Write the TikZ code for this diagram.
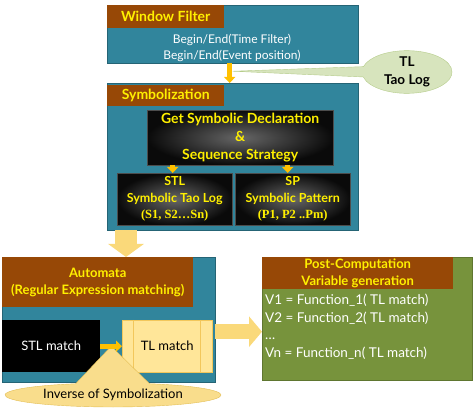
\documentclass[tikz,border=0pt]{standalone}
\usepackage{fontspec}
\setmainfont{Lato}
\newfontfamily\timesbold{Liberation Serif}[BoldFont={Liberation Serif Bold}]
\usetikzlibrary{arrows.meta,positioning,shapes.geometric,shapes.callouts,calc}
\definecolor{panelteal}{HTML}{31859C}
\definecolor{headbrown}{HTML}{974806}
\definecolor{titleyellow}{HTML}{FFF000}
\definecolor{postgreen}{HTML}{77933C}
\definecolor{matchyellow}{HTML}{FFE699}
\definecolor{matchedge}{HTML}{F2C75C}
\definecolor{arroworange}{HTML}{FFC000}
\definecolor{blockgold}{HTML}{FAD97A}
\definecolor{tlgreen}{HTML}{D7E4BD}
\definecolor{tledge}{HTML}{B5CC8A}
\definecolor{inversefill}{HTML}{F9DD8C}
\definecolor{inverseedge}{HTML}{E3BE55}
\tikzset{
  panel/.style={rectangle,draw=panelteal!75!black,fill=panelteal,anchor=north west,inner sep=0pt},
  header/.style={rectangle,fill=headbrown,anchor=north west,inner sep=0pt,text=titleyellow,
    font=\bfseries\fontsize{13}{17}\selectfont,align=center},
  darkbox/.style={rectangle,draw=black!70,inner color=black!60,outer color=black!96,anchor=north west,
    inner sep=0pt,text=titleyellow,align=center},
  bodytext/.style={text=white,align=center,inner sep=0pt,font=\fontsize{12}{16}\selectfont},
  smallarrow/.style={draw=arroworange,line width=5pt,-{Triangle[width=11pt,length=6pt]}},
  blockarrow/.style={draw=blockgold,-{Triangle[width=#1,length=13pt]}},
  bubble/.style={ellipse callout,inner sep=0pt,align=center}
}

\begin{document}
\begin{tikzpicture}[x=1pt,y=-1pt]
  \useasboundingbox (0,0) rectangle (474,411);
  % window filter
  \node[panel,minimum width=251,minimum height=58] (wf) at (107,5) {};
  \node[header,minimum width=117,minimum height=23,font=\bfseries\fontsize{14}{17}\selectfont] (wfhead) at (107,5) {Window Filter};
  \node[bodytext] (wftext) at (232,48) {Begin/End(Time Filter)\\Begin/End(Event position)};
  % symbolization
  \node[panel,minimum width=251,minimum height=147] (sym) at (107,83) {};
  \node[header,minimum width=117,minimum height=21,font=\bfseries\fontsize{14}{17}\selectfont] (symhead) at (107,85) {Symbolization};
  \node[darkbox,minimum width=186,minimum height=55,font=\bfseries\fontsize{14}{18}\selectfont] (decl) at (147,110)
    {Get Symbolic Declaration\\\&\\Sequence Strategy};
  \node[darkbox,minimum width=115,minimum height=52,font=\bfseries\fontsize{12.5}{16.5}\selectfont] (stl) at (117,173)
    {STL\\Symbolic Tao Log\\{\timesbold\fontsize{12.5}{16.5}\selectfont (S1, S2…Sn)}};
  \node[darkbox,minimum width=115,minimum height=52,font=\bfseries\fontsize{12.5}{16.5}\selectfont] (sp) at (235,173)
    {SP\\Symbolic Pattern\\{\timesbold\fontsize{12.5}{16.5}\selectfont (P1, P2 ..Pm)}};
  % automata
  \node[panel,minimum width=213,minimum height=125] (auto) at (2,257) {};
  \node[header,minimum width=191,minimum height=50] (autohead) at (2,257) {Automata\\(Regular Expression matching)};
  \node[rectangle,fill=black,anchor=north west,minimum width=98,minimum height=52,text=white,
    font=\fontsize{13}{16}\selectfont] (stlmatch) at (2,320) {STL match};
  \node[rectangle,fill=matchyellow,draw=matchedge,anchor=north west,minimum width=90,minimum height=52,
    font=\fontsize{13}{16}\selectfont] (tlmatch) at (122,320) {TL match};
  \draw[matchedge] ([xshift=11]tlmatch.north west) -- ([xshift=11]tlmatch.south west);
  \draw[matchedge] ([xshift=-12]tlmatch.north east) -- ([xshift=-12]tlmatch.south east);
  % post computation
  \node[panel,fill=postgreen,draw=postgreen!80!black,minimum width=210,minimum height=123] (post) at (262,257) {};
  \node[header,minimum width=191,minimum height=32] (posthead) at (262,257)
    {Post-Computation\\Variable generation};
  \node[anchor=north west,text=white,align=left,inner sep=0pt,font=\fontsize{13.5}{17.5}\selectfont] (postlines) at (265,294)
    {V1 = Function\_1( TL match)\\V2 = Function\_2( TL match)\\…\\Vn = Function\_n( TL match)};
  % callouts
  \node[bubble,fill=tlgreen,draw=tledge,minimum width=90,minimum height=42,callout pointer arc=28,
    font=\bfseries\fontsize{13.5}{18}\selectfont,
    callout absolute pointer={($(wf.south)!0.4!(sym.north)$)}] (tl) at (407,72) {TL\\Tao Log};
  \node[bubble,fill=inversefill,draw=inverseedge,minimum width=216,minimum height=24,callout pointer arc=40,
    font=\fontsize{13}{15}\selectfont,
    callout absolute pointer={($(stlmatch.east)!0.5!(tlmatch.west)$)}] (inverse) at (113,395) {Inverse of Symbolization};
  % connectors
  \draw[smallarrow] ([xshift=-3]wf.south) -- ([xshift=-3]wf.south |- sym.north);
  \draw[smallarrow] ([xshift=-2]stl.north |- decl.south) -- ([xshift=-2]stl.north);
  \draw[smallarrow] ([xshift=-5]sp.north |- decl.south) -- ([xshift=-5]sp.north);
  \draw[smallarrow] (stlmatch) -- (tlmatch);
  \draw[blockarrow=35pt,line width=22pt] ([xshift=19]sym.south west) -- ([xshift=19]sym.south west |- auto.north);
  \draw[blockarrow=30pt,line width=15pt] ([yshift=-12]auto.east) -- ([yshift=-12]auto.east -| post.west);
\end{tikzpicture}
\end{document}
